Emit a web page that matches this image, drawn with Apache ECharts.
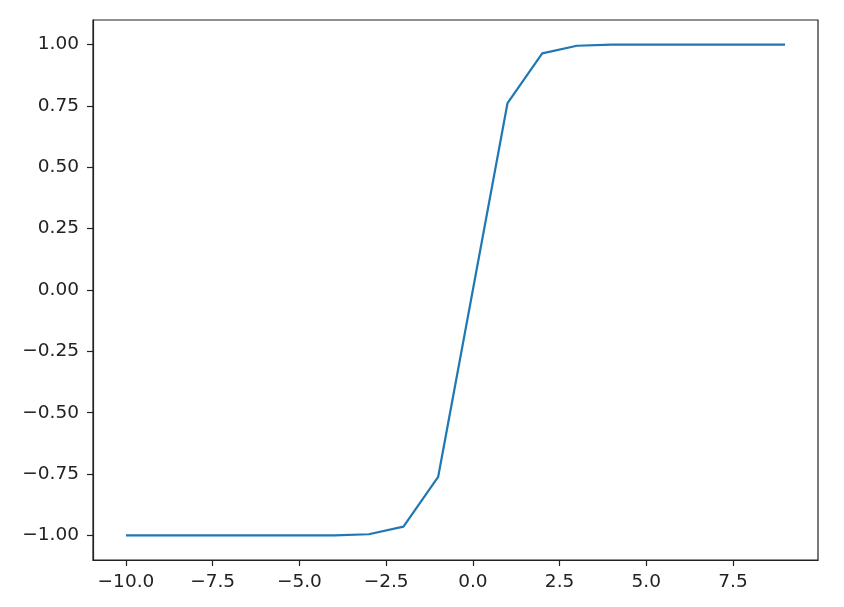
<!DOCTYPE html>
<html>
<head>
<meta charset="utf-8">
<script src="https://cdn.jsdelivr.net/npm/echarts@6/dist/echarts.min.js"></script>
<style>html,body{margin:0;padding:0;background:#fff}#c{width:844px;height:607px}</style>
</head>
<body>
<div id="c"></div>
<script>
const xValues = [-10,-9,-8,-7,-6,-5,-4,-3,-2,-1,0,1,2,3,4,5,6,7,8,9];
const yValues = [-1.0,-1.0,-1.0,-1.0,-0.99999,-0.9999,-0.9993,-0.9951,-0.964,-0.7616,0.0,0.7616,0.964,0.9951,0.9993,0.9999,0.99999,1.0,1.0,1.0];
const xTicks = [-10,-7.5,-5,-2.5,0,2.5,5,7.5];
const yTicks = [-1,-0.75,-0.5,-0.25,0,0.25,0.5,0.75,1];

const fmt = (v, d) => { const s = Math.abs(v).toFixed(d); return (v < -1e-9 ? '\u2212' : '') + s; };
const chart = echarts.init(document.getElementById('c'));
const font = 'DejaVu Sans';
chart.setOption({
  animation: false,
  grid: {left: 93, right: 26, top: 20, bottom: 47, show: true, borderColor: '#222', borderWidth: 1.2, backgroundColor: 'transparent'},
  xAxis: {
    type: 'value', min: -10.95, max: 9.95,
    splitLine: {show: false},
    axisLine: {show: true, onZero: false, lineStyle: {color: '#222', width: 1.2}},
    axisTick: {show: true, length: 6, customValues: xTicks, lineStyle: {color: '#222', width: 1.2}},
    axisLabel: {customValues: xTicks, formatter: v => fmt(v, 1), color: '#222', fontFamily: font, fontSize: 18.5, margin: 13}
  },
  yAxis: {
    type: 'value', min: -1.1, max: 1.1,
    splitLine: {show: false},
    axisLine: {show: true, onZero: false, lineStyle: {color: '#222', width: 1.2}},
    axisTick: {show: true, length: 6, customValues: yTicks, lineStyle: {color: '#222', width: 1.2}},
    axisLabel: {customValues: yTicks, formatter: v => fmt(v, 2), color: '#222', fontFamily: font, fontSize: 18.5, margin: 14}
  },
  series: [{
    type: 'line',
    data: xValues.map((x, i) => [x, yValues[i]]),
    showSymbol: false,
    lineStyle: {color: '#1f77b4', width: 2.2},
    itemStyle: {color: '#1f77b4'}
  }]
});
</script>
</body>
</html>
